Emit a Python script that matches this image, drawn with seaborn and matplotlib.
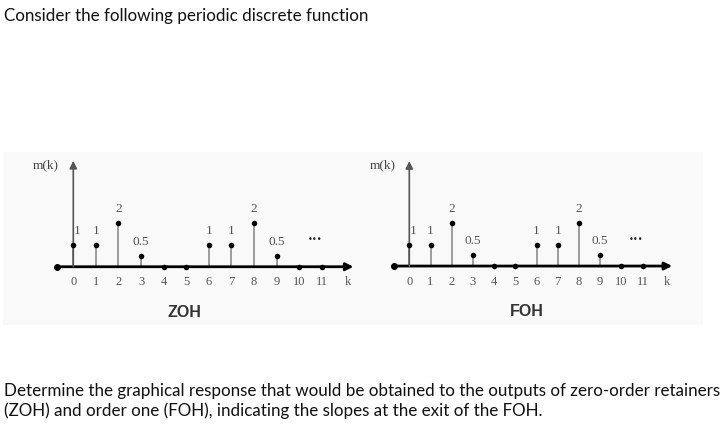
import matplotlib
matplotlib.use("Agg")
import matplotlib.pyplot as plt
from matplotlib.patches import Rectangle
import pandas as pd
import seaborn as sns

# sampled periodic sequence m(k)
k_values = [0, 1, 2, 3, 4, 5, 6, 7, 8, 9, 10, 11]
m_values = [1, 1, 2, 0.5, 0, 0, 1, 1, 2, 0.5, 0, 0]
value_labels = ["1", "1", "2", "0.5", "", "", "1", "1", "2", "0.5", "", ""]
tick_labels = [str(k) for k in k_values]
panel_titles = ["ZOH", "FOH"]

intro_text = "Consider the following periodic discrete function"
question_lines = [
    "Determine the graphical response that would be obtained to the outputs of zero-order retainers",
    "(ZOH) and order one (FOH), indicating the slopes at the exit of the FOH.",
]

sns.set_theme(style="white")
plt.rcParams["font.family"] = ["Lato", "DejaVu Sans"]

W, H = 728, 446
fig = plt.figure(figsize=(W / 100, H / 100), dpi=100)
fig.patch.set_facecolor("white")

# faint grey pasted-image panel behind the two plots
fig.add_artist(Rectangle((3 / W, 1 - 325 / H), 700 / W, 173 / H,
                         transform=fig.transFigure, facecolor="#f9f9f9",
                         edgecolor="none", zorder=0))

df = pd.DataFrame({"k": k_values, "m": m_values, "label": value_labels})

# axes boxes in pixels: (left, top, right, bottom) for xlim (-1, 13), ylim (-1.5, 5)
boxes = [(50.7, 158.2, 367.0, 299.3), (388.1, 158.5, 684.9, 298.3)]
title_x = [4.94, 5.54]
serif = "Liberation Serif"

for (l, t, r, b), title, tx in zip(boxes, panel_titles, title_x):
    ax = fig.add_axes([l / W, 1 - b / H, (r - l) / W, (b - t) / H])
    ax.set_xlim(-1, 13)
    ax.set_ylim(-1.5, 5)
    ax.axis("off")
    ax.patch.set_alpha(0)

    # stems
    ax.vlines(df["k"], 0, df["m"], color="#8c8c8c", lw=1.2, zorder=2)
    # horizontal axis with arrow
    ax.annotate("", xy=(12.4, 0), xytext=(-0.73, 0),
                arrowprops=dict(arrowstyle="-|>", color="black", lw=2,
                                mutation_scale=11, shrinkA=0, shrinkB=0), zorder=3)
    ax.plot([-0.73], [0], "o", color="black", ms=4, zorder=4)
    # vertical axis with arrow
    ax.annotate("", xy=(0, 4.88), xytext=(0, 0),
                arrowprops=dict(arrowstyle="-|>", color="#555555", lw=1.2,
                                mutation_scale=11, shrinkA=0, shrinkB=0), zorder=3)

    sns.scatterplot(data=df, x="k", y="m", ax=ax, color="black", s=16,
                    edgecolor="black", linewidth=0, zorder=5, clip_on=False,
                    legend=False)
    ax.set_xlabel("")
    ax.set_ylabel("")

    for _, row in df.iterrows():
        if row["label"]:
            dx = 3 if row["k"] == 0 else 0
            ax.annotate(row["label"], (row["k"], row["m"]), xytext=(dx, 10),
                        textcoords="offset points", ha="center", va="center",
                        fontsize=9.5, family=serif, color="#555555")

    for kv, lab in zip(k_values, tick_labels):
        ax.text(kv, -0.72, lab, ha="center", va="center", fontsize=9,
                family=serif, color="#555555")
    ax.text(12.17, -0.72, "k", ha="center", va="center", fontsize=9,
            family=serif, color="#555555")
    ax.text(-1.24, 4.68, "m(k)", ha="center", va="center", fontsize=9.5,
            family=serif, color="#444444")
    ax.text(10.68, 1.25, "•••", ha="center", va="center", fontsize=6,
            family="DejaVu Sans", color="#222222")

    ax.text(tx, -2.1, title, ha="center", va="center", fontsize=11.5,
            family="Liberation Sans", fontweight="bold", color="#333333",
            clip_on=False)

# page text, sized so the long line spans the same width as the reference
t0 = fig.text(4 / W, 1 - 20.7 / H, intro_text, ha="left", va="baseline",
              fontsize=11, color="#111111")
t1 = fig.text(4 / W, 1 - 396 / H, question_lines[0], ha="left", va="baseline",
              fontsize=11, color="#111111")
t2 = fig.text(4 / W, 1 - 416 / H, question_lines[1], ha="left", va="baseline",
              fontsize=11, color="#111111")
fig.canvas.draw()
width_px = t1.get_window_extent(fig.canvas.get_renderer()).width
size = 11 * 711 / width_px
for t in (t0, t1, t2):
    t.set_fontsize(size)

fig.savefig("out.png", dpi=100)
